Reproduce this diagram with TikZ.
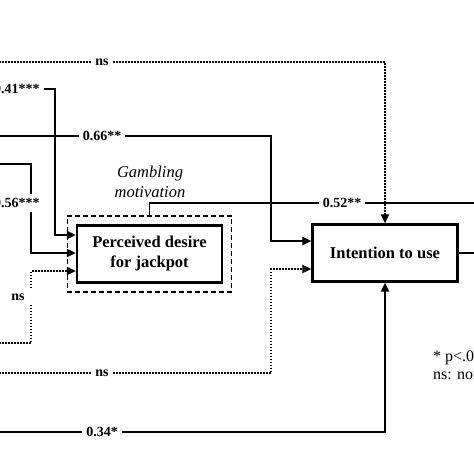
\documentclass[tikz,border=0pt]{standalone}
\usepackage{fontspec}
\setmainfont{Liberation Serif}
\usetikzlibrary{arrows.meta,positioning,fit}

\tikzset{
  box/.style={draw, line width=2.2pt, minimum width=145pt, minimum height=57pt, inner sep=0pt,
    align=center, font=\fontsize{16.5}{20}\selectfont\bfseries},
  coef/.style={fill=white, inner sep=4pt, font=\fontsize{14}{16}\selectfont\bfseries},
  line/.style={line width=1.8pt},
  link/.style={line, -{Triangle[length=9pt,width=8pt]}},
  nsline/.style={line width=1.7pt, dash pattern=on 1.5pt off 1.5pt},
  nslink/.style={nsline, -{Triangle[length=9pt,width=8pt]}}
}

\begin{document}
\begin{tikzpicture}[x=1pt, y=-1pt]
\useasboundingbox (0,0) rectangle (474,474);
\clip (0,0) rectangle (474,474);
%%%%% Boxes %%%%%
\node[box] (desire) at (149.5,254) {Perceived desire\\for jackpot};
\node[draw, line width=1.6pt, dash pattern=on 5pt off 3pt, fit=(desire), inner sep=8.5pt] (moder) {};
\node[font=\fontsize{16.5}{20}\selectfont\itshape, align=center] (gmlabel) at (150,182) {Gambling\\motivation};
\node[box] (intent) at (385,253) {Intention to use};
%%%%% Free ends and bends %%%%%
\coordinate (nsTopL) at (-10,62);
\coordinate (a41) at (-10,89);
\coordinate (b41) at (55,235);
\coordinate (a66) at (-10,136);
\coordinate (b66) at (271,241);
\coordinate (a56) at (-10,164);
\coordinate (b56) at (31,253);
\coordinate (gmR) at (480,203);
\coordinate (ansL) at (-10,343);
\coordinate (bnsL) at (31,271);
\coordinate (ansB) at (-10,373);
\coordinate (bnsB) at (271,269);
\coordinate (a34) at (-10,432);
\coordinate (outR) at (480,253);
%%%%% Paths %%%%%
\draw[nslink] (nsTopL) -| (intent.north);
\draw[link] (a41) -| (b41) -- (b41 -| desire.west);
\draw[link] (a66) -| (b66) -- (b66 -| intent.west);
\draw[link] (a56) -| (b56) -- (b56 -| desire.west);
\draw[line] (moder.north) |- (gmR);
\draw[nslink] (ansL) -| (bnsL) -- (bnsL -| desire.west);
\draw[nslink] (ansB) -| (bnsB) -- (bnsB -| intent.west);
\draw[link] (a34) -| (intent.south);
\draw[line] (intent.east) -- (outR);
%%%%% Coefficients %%%%%
\node[coef] (cTop) at (102,62) {ns};
\node[coef] (c41) at (17,89) {0.41***};
\node[coef] (c66) at (102,136) {0.66**};
\node[coef] (c56) at (17,203) {0.56***};
\node[coef] (c52) at (342,203) {0.52**};
\node[coef, minimum width=30pt] (cnsL) at (18,297) {ns};
\node[coef] (cnsB) at (102,373) {ns};
\node[coef] (c34) at (102,432) {0.34*};
%%%%% Legend %%%%%
\node[anchor=west, align=left, inner sep=0pt, font=\fontsize{16}{18}\selectfont] (legend) at (433,367) {* p<.05\\ns: non-significant};
\end{tikzpicture}
\end{document}
